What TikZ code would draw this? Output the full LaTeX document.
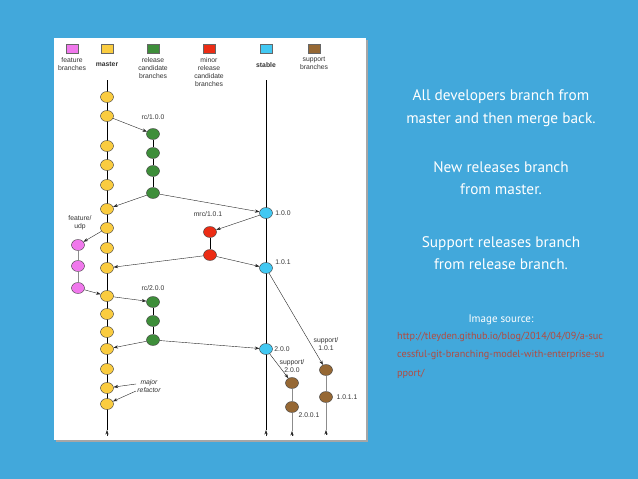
\documentclass[tikz,border=0pt]{standalone}
\usepackage{fontspec}
\setmainfont{Liberation Sans}
\newfontfamily\ptsans{PT Sans}
\usetikzlibrary{shapes.geometric,arrows.meta}
\definecolor{bgblue}{RGB}{66,168,219}
\definecolor{cyel}{RGB}{250,204,64}
\definecolor{cgrn}{RGB}{62,142,58}
\definecolor{cred}{RGB}{236,44,20}
\definecolor{ccyan}{RGB}{66,200,242}
\definecolor{cbrn}{RGB}{150,104,52}
\definecolor{cpnk}{RGB}{240,120,236}
\definecolor{urlred}{RGB}{180,74,62}
\tikzset{
  commit/.style={ellipse, draw=black!75, line width=0.4pt, minimum width=13pt, minimum height=11pt, inner sep=0pt},
  mc/.style={commit, fill=cyel},
  gc/.style={commit, fill=cgrn},
  rcn/.style={commit, fill=cred},
  sc/.style={commit, fill=ccyan},
  bc/.style={commit, fill=cbrn},
  pc/.style={commit, fill=cpnk},
  arr/.style={-{Stealth[length=4.5pt,width=3.2pt]}, line width=0.4pt, black!85},
  trunk/.style={line width=0.7pt, black},
  glink/.style={line width=0.7pt, black!45},
  lbl/.style={font=\fontsize{6.8}{8}\selectfont, text=black!80, align=center, inner sep=0pt},
  legbox/.style={draw=black!60, line width=0.4pt, minimum width=12pt, minimum height=9pt, inner sep=0pt},
  rtext/.style={font=\ptsans\fontsize{15.3}{22.5}\selectfont, text=white, align=center, inner sep=0pt},
}
\begin{document}
\begin{tikzpicture}[x=1pt,y=-1pt]
\useasboundingbox (0,0) rectangle (638,479);
\fill[bgblue] (0,0) rectangle (638,479);
% panel
\fill[black!35] (56,40) rectangle (368,442);
\fill[white] (54,38) rectangle (366,440);

% legend
\node[legbox, fill=cpnk] (lf) at (72,49) {};
\node[legbox, fill=cyel] (lm) at (107,49) {};
\node[legbox, fill=cgrn] (lr) at (153,49) {};
\node[legbox, fill=cred] (lmr) at (209,49) {};
\node[legbox, fill=ccyan] (ls) at (266,49) {};
\node[legbox, fill=cbrn] (lsu) at (314,49) {};
\node[lbl, anchor=north] (tf) at (72,57) {feature\\branches};
\node[lbl, anchor=north, font=\fontsize{6.8}{8}\selectfont\bfseries] (tm) at (107,62) {master};
\node[lbl, anchor=north] (tr) at (153,57) {release\\candidate\\branches};
\node[lbl, anchor=north] (tmr) at (209,57) {minor\\release\\candidate\\branches};
\node[lbl, anchor=north, font=\fontsize{6.8}{8}\selectfont\bfseries] (ts) at (266,62) {stable};
\node[lbl, anchor=north] (tsu) at (314,57) {support\\branches};

% trunks
\coordinate (mtop) at (107,80);
\coordinate (mbot) at (107,430);
\coordinate (stop) at (266,80);
\coordinate (sbot) at (266,430);
\draw[trunk] (mtop) -- (mbot);
\draw[arr] ([yshift=-6pt]mbot) -- (mbot);
\draw[trunk] (stop) -- (sbot);
\draw[arr] ([yshift=-6pt]sbot) -- (sbot);

% master commits
\node[mc] (m1) at (107,97) {};
\node[mc] (m2) at (107,116) {};
\node[mc] (m3) at (107,146) {};
\node[mc] (m4) at (107,165) {};
\node[mc] (m5) at (107,185) {};
\node[mc] (m6) at (107,209) {};
\node[mc] (m7) at (107,228) {};
\node[mc] (m8) at (107,248) {};
\node[mc] (m9) at (107,268) {};
\node[mc] (m10) at (107,296) {};
\node[mc] (m11) at (107,314) {};
\node[mc] (m12) at (107,332) {};
\node[mc] (m13) at (107,349) {};
\node[mc] (m14) at (107,369) {};
\node[mc] (m15) at (107,388) {};
\node[mc] (m16) at (107,404) {};

% release candidate 1.0.0
\node[gc] (g1) at (153,134) {};
\node[gc] (g2) at (153,153) {};
\node[gc] (g3) at (153,171) {};
\node[gc] (g4) at (153,193) {};
\draw[trunk] (g1) -- (g2) -- (g3) -- (g4);

% stable
\node[sc] (s1) at (266,213) {};
\node[sc] (s2) at (266,268) {};
\node[sc] (s3) at (266,349) {};

% minor rc
\node[rcn] (r1) at (210,232) {};
\node[rcn] (r2) at (210,255) {};
\draw[trunk] (r1) -- (r2);

% feature
\node[pc] (p1) at (78,245) {};
\node[pc] (p2) at (78,266) {};
\node[pc] (p3) at (78,288) {};
\draw[glink] (p1) -- (p2) -- (p3);

% release candidate 2.0.0
\node[gc] (h1) at (153,302) {};
\node[gc] (h2) at (153,321) {};
\node[gc] (h3) at (153,340) {};
\draw[trunk] (h1) -- (h2) -- (h3);

% support branches
\node[bc] (b1) at (292,383) {};
\node[bc] (b2) at (292,407) {};
\node[bc] (c1) at (326,370) {};
\node[bc] (c2) at (326,397) {};
\coordinate (bend) at (292,431);
\coordinate (cend) at (326,430);
\draw[glink] (b1) -- (b2) -- (bend);
\draw[arr] ([yshift=-5pt]bend) -- (bend);
\draw[glink] (c1) -- (c2) -- (cend);
\draw[arr] ([yshift=-5pt]cend) -- (cend);

% connectors
\draw[arr] (m2) -- (g1);
\draw[arr] (g4) -- (m6);
\draw[arr] (g4) -- (s1);
\draw[arr] (s1) -- (r1);
\draw[arr] (r2) -- (m9);
\draw[arr] (r2) -- (s2);
\draw[arr] (m7) -- (p1);
\draw[arr] (p3) -- (m10);
\draw[arr] (m10) -- (h1);
\draw[arr] (h3) -- (m13);
\draw[arr] (h3) -- (s3);
\draw[arr] (s2) -- (c1);
\draw[arr] (s3) -- (b1);

% labels
\node[lbl] (l1) at (153,117) {rc/1.0.0};
\node[lbl] (l2) at (208,214) {mrc/1.0.1};
\node[lbl] (l3) at (283,213) {1.0.0};
\node[lbl] (l4) at (283,262) {1.0.1};
\node[lbl] (l5) at (153,288) {rc/2.0.0};
\node[lbl] (l6) at (282,349) {2.0.0};
\node[lbl] (l7) at (292,366) {support/\\2.0.0};
\node[lbl] (l8) at (326,344) {support/\\1.0.1};
\node[lbl] (l9) at (347,397) {1.0.1.1};
\node[lbl] (l10) at (309,415) {2.0.0.1};
\node[lbl] (l11) at (80,223) {feature/\\udp};
\node[lbl, font=\fontsize{6.8}{8}\selectfont\itshape] (l12) at (149,386) {major\\refactor};
\coordinate (mr1) at (136,384);
\coordinate (mr2) at (136,391);
\draw[arr] (mr1) -- (m15);
\draw[arr] (mr2) -- (m16);

% right text
\node[rtext] (t1) at (501,108) {All developers branch from\\master and then merge back.};
\node[rtext] (t2) at (501,178) {New releases branch\\from master.};
\node[rtext] (t3) at (501,253) {Support releases branch\\from release branch.};
\node[rtext, font=\ptsans\fontsize{11}{13}\selectfont] (t4) at (501,320) {Image source:};
\node[anchor=north west, inner sep=0pt, align=left, text=urlred, font=\ptsans\fontsize{10.2}{18.5}\selectfont] (t5) at (397,332) {http://tleyden.github.io/blog/2014/04/09/a-suc\\cessful-git-branching-model-with-enterprise-su\\pport/};
\end{tikzpicture}
\end{document}
